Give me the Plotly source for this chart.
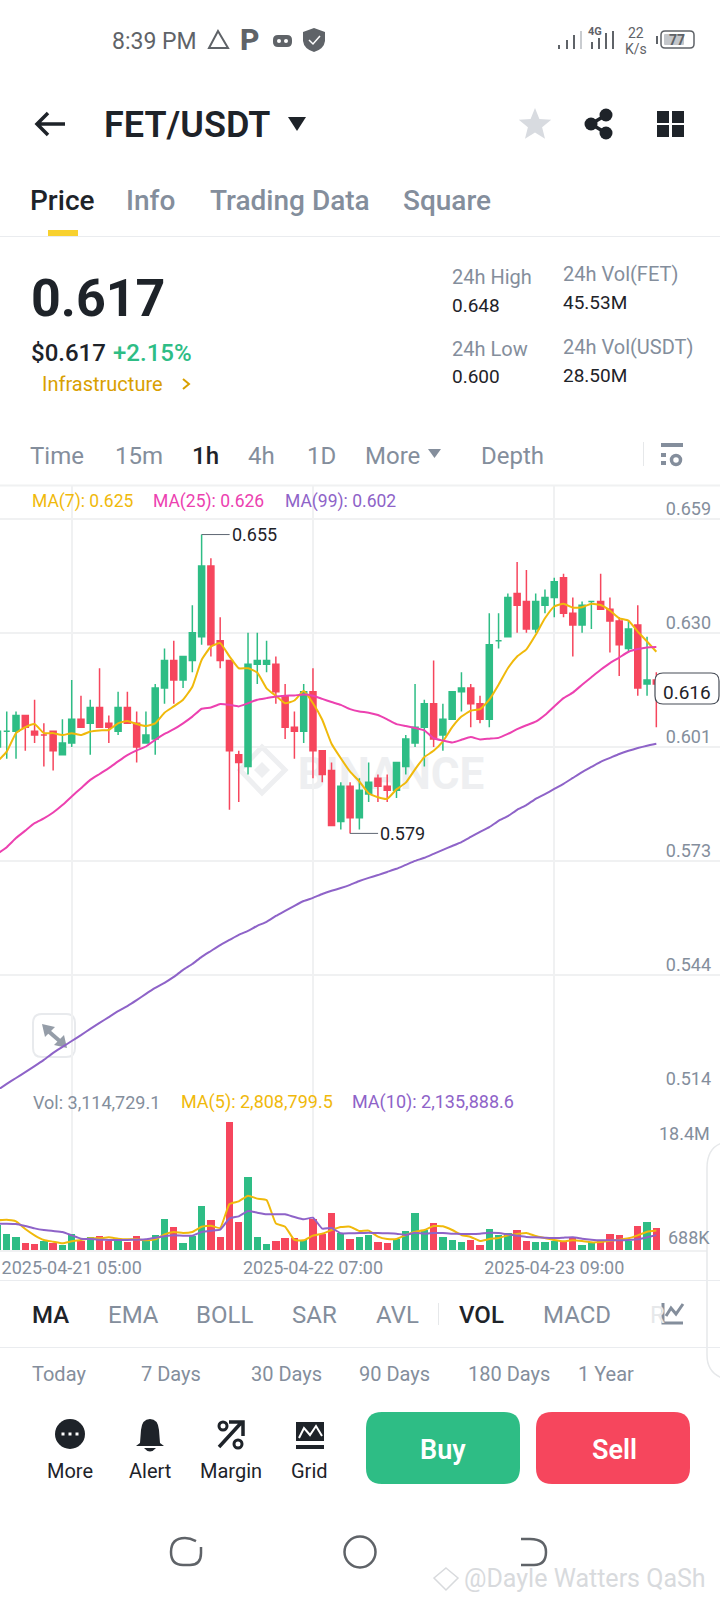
import math

import pandas as pd
import plotly.graph_objs as go

WIDTH, HEIGHT = 720, 1600
FONT = "Roboto"
DARK = "#1E2329"
GREY = "#848E9C"
ICON = "#5F6368"
LINE = "#F0F1F2"
GREEN = "#2EBD85"
RED = "#F6465D"
ORANGE = "#F0B90B"
PINK = "#EC41B0"
PURPLE = "#8E63C8"

# hourly candles, 2025-04-20 21:00 to 2025-04-23 20:00
hours = pd.date_range("2025-04-20 21:00", periods=72, freq="h")

open_prices = [.601, .605, .605, .609, .605, .604, .605, .599, .602, .608, .607, .611, .607, .605, .611, .607, .602, .603,
               .616, .623, .618, .623, .629, .647, .628, .623, .599, .596, .622, .622, .622, .614, .606, .605, .615, .600,
               .595, .582, .591, .583, .589, .593, .591, .590, .596, .602, .606, .612, .604, .608, .615, .616, .612, .608,
               .628, .629, .640, .638, .631, .637, .639, .644, .635, .632, .638, .638, .636, .633, .626, .632, .617, .618]
high_prices = [.607, .610, .610, .609, .613, .607, .605, .608, .618, .614, .613, .621, .609, .615, .615, .610, .610, .617,
               .626, .628, .624, .637, .655, .649, .634, .623, .600, .630, .630, .628, .624, .617, .610, .617, .621, .600,
               .597, .592, .592, .593, .597, .594, .594, .597, .604, .617, .613, .623, .612, .615, .620, .617, .614, .635,
               .635, .640, .648, .646, .640, .641, .644, .645, .639, .638, .638, .645, .639, .634, .633, .637, .629, .620]
low_prices = [.600, .598, .598, .600, .602, .596, .595, .599, .601, .606, .599, .606, .602, .604, .607, .597, .602, .599,
              .612, .612, .616, .620, .627, .624, .621, .585, .587, .594, .617, .620, .612, .603, .598, .602, .593, .592,
              .581, .580, .579, .580, .587, .587, .587, .588, .594, .601, .596, .601, .600, .608, .610, .606, .607, .606,
              .626, .629, .630, .630, .630, .635, .634, .634, .624, .630, .631, .636, .625, .619, .625, .614, .614, .606]
close_prices = [.605, .605, .609, .606, .604, .604, .600, .602, .608, .606, .611, .606, .606, .611, .607, .601, .604, .616,
                .623, .618, .624, .630, .647, .627, .623, .600, .597, .622, .623, .623, .615, .606, .605, .615, .600, .594,
                .581, .591, .583, .590, .592, .591, .590, .597, .603, .606, .612, .603, .608, .615, .616, .612, .608, .627,
                .628, .639, .637, .631, .638, .639, .643, .635, .632, .637, .638, .636, .633, .627, .631, .616, .618, .617]

ma7 = [.5973, .5998, .6045, .6060, .6068, .6045, .6045, .6040, .6045, .6040, .6049, .6052, .6053, .6070, .6076, .6068, .6063, .6070,
       .6097, .6113, .6130, .6163, .6231, .6265, .6274, .6240, .6210, .6210, .6199, .6159, .6140, .6121, .6128, .6152, .6121, .6079,
       .6018, .5981, .5947, .5922, .5892, .5882, .5878, .5902, .5919, .5953, .5984, .6000, .6024, .6060, .6087, .6102, .6106, .6130,
       .6168, .6210, .6240, .6258, .6295, .6337, .6367, .6374, .6364, .6365, .6374, .6371, .6357, .6337, .6331, .6303, .6278, .6252]
ma25 = [.5738, .5755, .5778, .5797, .5816, .5828, .5843, .5862, .5884, .5905, .5926, .5941, .5956, .5973, .5989, .6001, .6011, .6028,
        .6043, .6055, .6070, .6087, .6107, .6110, .6119, .6117, .6113, .6121, .6130, .6134, .6138, .6140, .6141, .6143, .6140, .6132,
        .6124, .6117, .6106, .6100, .6097, .6091, .6080, .6068, .6063, .6058, .6052, .6032, .6026, .6021, .6028, .6035, .6029, .6031,
        .6033, .6043, .6055, .6065, .6074, .6091, .6113, .6134, .6148, .6168, .6187, .6206, .6223, .6237, .6252, .6259, .6263, .6264]
ma99 = [.5137, .5153, .5168, .5183, .5198, .5214, .5232, .5247, .5262, .5277, .5293, .5308, .5323, .5338, .5351, .5366, .5382, .5397,
        .5410, .5425, .5443, .5458, .5476, .5491, .5506, .5519, .5532, .5542, .5555, .5565, .5580, .5593, .5606, .5618, .5626, .5636,
        .5644, .5651, .5659, .5669, .5677, .5684, .5692, .5700, .5710, .5720, .5728, .5738, .5748, .5758, .5768, .5781, .5794, .5806,
        .5822, .5834, .5850, .5862, .5878, .5890, .5903, .5916, .5931, .5946, .5959, .5972, .5982, .5992, .6000, .6007, .6013, .6018]

# volume in millions
volumes = [3.64, 2.30, 1.92, .96, .81, 1.34, 1.05, .77, 2.25, 1.34, 1.82, 2.01, 1.29, 1.63, 1.10, 2.01, 1.25, 2.16,
           4.45, 3.35, 1.05, 2.01, 6.32, 4.26, 1.92, 18.4, 4.02, 10.49, 1.87, .91, 1.29, 1.68, 1.72, 1.44, 4.41, 2.25,
           5.27, 2.49, 1.58, 1.92, 2.11, 1.15, .96, 1.53, 2.73, 5.36, 2.87, 3.93, 1.87, 1.48, 1.15, 1.39, .77, 3.02,
           2.16, 2.40, 2.87, 1.34, 1.20, 1.10, 1.34, 1.15, 1.82, .72, 1.10, 1.25, 2.30, 2.16, 1.29, 3.45, 4.02, 3.11]
vol_ma5 = [4.26, 4.36, 4.12, 3.02, 2.11, 1.44, 1.20, .96, 1.25, 1.44, 1.68, 1.68, 1.82, 1.63, 1.53, 1.53, 1.39, 1.53,
           2.25, 2.59, 2.44, 2.59, 3.35, 3.50, 3.16, 6.61, 6.99, 7.81, 7.38, 7.19, 3.83, 3.35, 1.44, 1.39, 2.06, 2.35,
           2.87, 3.31, 3.35, 2.73, 2.78, 1.92, 1.58, 1.58, 2.16, 2.63, 2.87, 3.45, 3.40, 2.87, 2.16, 1.87, 1.29, 1.58,
           1.72, 2.11, 2.30, 2.44, 2.01, 1.72, 1.44, 1.25, 1.39, 1.29, 1.10, 1.15, 1.34, 1.48, 1.68, 2.11, 2.63, 2.81]
vol_ma10 = [3.78, 3.78, 3.74, 3.45, 3.11, 2.87, 2.73, 2.59, 2.11, 1.63, 1.58, 1.48, 1.44, 1.44, 1.44, 1.48, 1.53, 1.77,
            1.96, 2.11, 2.06, 2.06, 2.59, 2.78, 2.92, 4.55, 4.84, 5.60, 5.36, 5.13, 5.13, 5.13, 4.74, 4.41, 4.65, 3.07,
            3.16, 2.40, 2.40, 2.44, 2.49, 2.44, 2.40, 2.35, 2.16, 2.49, 2.35, 2.44, 2.44, 2.35, 2.30, 2.30, 2.35, 2.49,
            2.44, 2.25, 2.06, 1.87, 1.82, 1.77, 1.72, 1.77, 1.82, 1.63, 1.48, 1.39, 1.39, 1.39, 1.44, 1.53, 1.82, 2.14]

price_tick_vals = [.659, .630, .601, .572, .543, .514]
price_tick_labels = ["0.659", "0.630", "0.601", "0.573", "0.544", "0.514"]
date_ticks = ["2025-04-21 05:00", "2025-04-22 07:00", "2025-04-23 09:00"]

annotations = []
shapes = []


def fx(x):
    return x / WIDTH


def fy(y):
    return 1 - y / HEIGHT


def text(x, y, s, size, color=GREY, anchor="left", weight=400):
    annotations.append(dict(x=fx(x), y=fy(y), xref="paper", yref="paper", text=s, showarrow=False,
                            xanchor=anchor, yanchor="middle", borderpad=0, borderwidth=0,
                            font=dict(family=FONT, size=size, color=color, weight=weight)))


def path(d, fill=None, stroke=None, width=1.0, layer="above"):
    # d is written in page pixels, shapes want paper coordinates
    out, is_x = [], True
    for tok in d.split():
        if tok.isalpha():
            out.append(tok)
        else:
            out.append(f"{fx(float(tok)):.5f}" if is_x else f"{fy(float(tok)):.5f}")
            is_x = not is_x
    shapes.append(dict(type="path", xref="paper", yref="paper", path=" ".join(out), layer=layer,
                       fillcolor=fill or "rgba(0,0,0,0)",
                       line=dict(color=stroke or "rgba(0,0,0,0)", width=width)))


def round_rect(x0, y0, x1, y1, r, fill=None, stroke=None, width=1.0, layer="above"):
    path(f"M {x0+r} {y0} L {x1-r} {y0} Q {x1} {y0} {x1} {y0+r} L {x1} {y1-r} Q {x1} {y1} {x1-r} {y1} "
         f"L {x0+r} {y1} Q {x0} {y1} {x0} {y1-r} L {x0} {y0+r} Q {x0} {y0} {x0+r} {y0} Z", fill, stroke, width, layer)


def rect(x0, y0, x1, y1, fill):
    shapes.append(dict(type="rect", xref="paper", yref="paper", x0=fx(x0), x1=fx(x1), y0=fy(y0), y1=fy(y1),
                       fillcolor=fill, line=dict(width=0)))


def circle(cx, cy, r, fill=None, stroke=None, width=1.0):
    shapes.append(dict(type="circle", xref="paper", yref="paper", x0=fx(cx - r), x1=fx(cx + r), y0=fy(cy - r), y1=fy(cy + r),
                       fillcolor=fill or "rgba(0,0,0,0)", line=dict(color=stroke or "rgba(0,0,0,0)", width=width)))


# status bar
text(112, 41, "8:39 PM", 23, ICON)
path("M 218 31 L 209 48 L 228 48 Z", stroke=ICON, width=2)
text(240, 39, "P", 30, ICON, weight=800)
round_rect(273, 35, 292, 47, 5, fill=ICON)
circle(279, 41, 2, fill="white")
circle(286, 41, 2, fill="white")
path("M 314 28 L 325 32 L 325 41 Q 324 49 314 52 Q 304 49 303 41 L 303 32 Z", fill=ICON)
path("M 309 40 L 313 44 L 320 36", stroke="white", width=1.5)
for x, top in [(559, 45), (567, 40), (574, 35), (592, 42), (599, 38), (606, 33), (613, 31)]:
    rect(x - 1, top, x + 1, 49, ICON)
rect(580, 31, 582, 49, "#C9CCD0")
text(595, 31, "4G", 11, ICON, anchor="center", weight=700)
text(636, 33, "22", 14, ICON, anchor="center")
text(636, 49, "K/s", 14, ICON, anchor="center")
rect(656, 36, 658, 44, ICON)
round_rect(661, 31, 694, 48, 4, stroke=ICON, width=1.5)
round_rect(664, 34, 684, 45, 1, fill="#C4C7CB")
text(677, 40, "77", 14, ICON, anchor="center", weight=700)

# header
path("M 65 124 L 38 124 M 48 113 L 37 124 L 48 135", stroke=DARK, width=3.5)
text(104, 125, "FET/USDT", 36, DARK, weight=600)
path("M 288 117 L 306 117 L 297 131 Z", fill=DARK)
star = []
for i in range(10):
    r = 17 if i % 2 == 0 else 7.5
    a = math.radians(-90 + 36 * i)
    star.append(f"{535 + r * math.cos(a):.1f} {125 + r * math.sin(a):.1f}")
path("M " + " L ".join(star) + " Z", fill="#D8DBE0")
path("M 606 115 L 591 124 L 606 133", stroke=DARK, width=3.5)
for cx, cy in [(606, 115), (591, 124), (606, 133)]:
    circle(cx, cy, 6.5, fill=DARK)
for x0, y0 in [(657, 111), (672, 111), (657, 125), (672, 125)]:
    rect(x0, y0, x0 + 12, y0 + 12, DARK)

# tabs
text(30, 200, "Price", 28, DARK, weight=500)
text(126, 200, "Info", 28, GREY, weight=500)
text(210, 200, "Trading Data", 28, GREY, weight=500)
text(403, 200, "Square", 28, GREY, weight=500)
rect(48, 230, 78, 236, "#F8D12F")
rect(0, 236, WIDTH, 237, "#EAECEF")

# price block
text(31, 298, "0.617", 52, DARK, weight=700)
text(31, 353, "$0.617", 24, DARK, weight=500)
text(113, 353, "+2.15%", 24, GREEN, weight=500)
text(42, 384, "Infrastructure", 20, "#D9A000")
path("M 183 379 L 189 384 L 183 389", stroke="#D9A000", width=2)
text(452, 277, "24h High", 20)
text(452, 305, "0.648", 19, DARK)
text(452, 349, "24h Low", 20)
text(452, 377, "0.600", 19, DARK)
text(563, 274, "24h Vol(FET)", 20)
text(563, 303, "45.53M", 19, DARK)
text(563, 347, "24h Vol(USDT)", 20)
text(563, 375, "28.50M", 19, DARK)

# interval row
for x, s, c in [(30, "Time", GREY), (115, "15m", GREY), (192, "1h", DARK), (248, "4h", GREY),
                (307, "1D", GREY), (365, "More", GREY), (481, "Depth", GREY)]:
    text(x, 456, s, 24, c, weight=500 if c == DARK else 400)
path("M 428 449 L 441 449 L 434.5 458 Z", fill=GREY)
rect(643, 442, 644, 466, "#E6E8EA")
rect(661, 443, 683, 447, GREY)
rect(661, 453, 666, 457, GREY)
rect(661, 461, 666, 465, GREY)
circle(676, 460, 4.5, stroke=GREY, width=3.5)
rect(0, 484.5, WIDTH, 486.5, LINE)

# moving average legends
text(32, 502, "MA(7): 0.625", 17.5, ORANGE)
text(153, 502, "MA(25): 0.626", 17.5, PINK)
text(285, 502, "MA(99): 0.602", 17.5, PURPLE)
text(33, 1102, "Vol: 3,114,729.1", 18, GREY)
text(181, 1102, "MA(5): 2,808,799.5", 18, ORANGE)
text(352, 1102, "MA(10): 2,135,888.6", 18, PURPLE)
text(710, 1133, "18.4M", 18, anchor="right")
text(710, 1237, "688K", 18, anchor="right")

# chart furniture
logo_mark = "M 262 747 L 285 770 L 262 793 L 240 770 Z"
path(logo_mark, stroke="#EEEFF1", width=5, layer="below")
path("M 262 762 L 270 770 L 262 778 L 254 770 Z", fill="#EEEFF1", layer="below")
shapes.append(dict(type="rect", xref="paper", yref="paper", x0=fx(292), x1=fx(490), y0=fy(790), y1=fy(752), layer="below",
                   line=dict(width=0), fillcolor="rgba(0,0,0,0)",
                   label=dict(text="BINANCE", font=dict(family=FONT, size=44, color="#EEEFF1", weight=700),
                              textposition="middle center")))
round_rect(33, 1014, 75, 1057, 9, fill="white", stroke="#E8EAED", width=2, layer="below")
path("M 42 1024 L 55 1027 L 45 1037 Z", fill="#959DA8", layer="below")
path("M 67 1048 L 54 1045 L 64 1035 Z", fill="#959DA8", layer="below")
path("M 47 1030 L 62 1043", stroke="#959DA8", width=4, layer="below")

# last price flag
round_rect(655, 673, 719, 704, 8, fill="white", stroke="#474D57", width=1.2)
text(687, 692, "0.616", 19, DARK, anchor="center")

# side panel edge
path("M 722 1143 Q 707 1148 707 1168 L 707 1355 Q 707 1372 722 1378 Z", fill="white", stroke="#E6E8EA", width=1.5)

# indicator row
rect(0, 1280, WIDTH, 1281, "#EAECEF")
for x, s, c in [(32, "MA", DARK), (108, "EMA", GREY), (196, "BOLL", GREY), (292, "SAR", GREY), (376, "AVL", GREY),
                (459, "VOL", DARK), (543, "MACD", GREY)]:
    text(x, 1315, s, 24, c, weight=500 if c == DARK else 400)
rect(438, 1303, 439, 1325, "#E6E8EA")
text(650, 1315, "R", 24, "#E6E8EA")
path("M 663 1303 L 663 1323 L 683 1323", stroke=GREY, width=3)
path("M 666 1316 L 671 1308 L 676 1314 L 683 1304", stroke=GREY, width=3)
rect(0, 1347, WIDTH, 1348, "#EAECEF")

for x, s in [(32, "Today"), (141, "7 Days"), (251, "30 Days"), (359, "90 Days"), (468, "180 Days"), (578, "1 Year")]:
    text(x, 1374, s, 20, GREY)

# bottom actions
circle(70, 1434, 15, fill=DARK)
for x in (63, 70, 77):
    rect(x - 1.5, 1432.5, x + 1.5, 1435.5, "white")
path("M 150 1419 Q 158 1419 159 1430 L 160 1443 L 164 1446 L 136 1446 L 140 1443 L 141 1430 Q 142 1419 150 1419 Z", fill=DARK)
path("M 144 1448 L 156 1448 Q 150 1455 144 1448 Z", fill=DARK)
path("M 219 1447 L 241 1423 M 229 1422 L 243 1422 L 243 1436", stroke=DARK, width=3.5)
circle(223, 1426, 4, stroke=DARK, width=3)
circle(238, 1444, 4, stroke=DARK, width=3)
rect(296, 1422, 324, 1441, DARK)
path("M 299 1438 L 304 1428 L 310 1435 L 316 1426 L 322 1436", stroke="white", width=2)
rect(296, 1445, 324, 1449, DARK)
for x, s in [(70, "More"), (150, "Alert"), (231, "Margin"), (309.5, "Grid")]:
    text(x, 1471, s, 20, DARK, anchor="center")
round_rect(366, 1412, 520, 1484, 16, fill=GREEN)
round_rect(536, 1412, 690, 1484, 16, fill=RED)
text(443, 1450, "Buy", 27, "white", anchor="center", weight=600)
text(614, 1450, "Sell", 27, "white", anchor="center", weight=600)

# navigation bar
path("M 196 1541 Q 190 1538 185 1538 Q 171 1538 171 1552 Q 171 1565 183 1565 L 190 1565 Q 201 1565 201 1553 L 201 1547",
     stroke=ICON, width=2.5)
circle(360, 1552, 15.5, stroke=ICON, width=2.5)
path("M 521 1539 L 530 1539 Q 546 1539 546 1552 Q 546 1565 534 1565 L 521 1565", stroke=ICON, width=2.5)
path("M 446 1568 L 458 1578 L 446 1590 L 434 1578 Z", stroke="#D8DADD", width=1.5)
text(464, 1578, "@Dayle Watters QaSh", 25, "#D8DADD")

bar_colors = [GREEN if c >= o else RED for o, c in zip(open_prices, close_prices)]

candles = go.Candlestick(x=hours, open=open_prices, high=high_prices, low=low_prices, close=close_prices,
                         xaxis="x", yaxis="y", whiskerwidth=0,
                         increasing=dict(line=dict(color=GREEN, width=1.5), fillcolor=GREEN),
                         decreasing=dict(line=dict(color=RED, width=1.5), fillcolor=RED))
line_traces = []
for values, color, axis in [(ma7, ORANGE, "y"), (ma25, PINK, "y"), (ma99, PURPLE, "y"),
                            (vol_ma5, ORANGE, "y2"), (vol_ma10, PURPLE, "y2")]:
    line_traces.append(go.Scatter(x=hours, y=values, mode="lines", xaxis="x", yaxis=axis,
                                  line=dict(color=color, width=2, shape="spline", smoothing=0.4)))
volume_bars = go.Bar(x=hours, y=volumes, marker=dict(color=bar_colors, line=dict(width=0)), width=2844000,
                     xaxis="x", yaxis="y2")

fig = go.Figure([volume_bars, candles] + line_traces)

# high and low callouts
for when, price, label in [("2025-04-21 19:00", .655, "0.655"), ("2025-04-22 11:00", .579, "0.579")]:
    annotations.append(dict(x=when, y=price, xref="x", yref="y", text=label, showarrow=True, arrowhead=0, arrowwidth=1,
                            arrowcolor="#5E6673", ax=28, ay=0, xanchor="left", yanchor="middle", standoff=0,
                            font=dict(family=FONT, size=18, color=DARK)))

fig.update_layout(
    width=WIDTH, height=HEIGHT, autosize=False, showlegend=False,
    margin=dict(l=0, r=0, t=0, b=0),
    paper_bgcolor="white", plot_bgcolor="white",
    bargap=0, boxgap=0.35, boxgroupgap=0,
    annotations=annotations, shapes=shapes,
    xaxis=dict(domain=[0, 1], anchor="y2", type="date",
               range=["2025-04-20 21:16:26", "2025-04-24 02:51:40"],
               rangeslider=dict(visible=False),
               showgrid=True, gridcolor=LINE, gridwidth=1.5, zeroline=False,
               showline=True, linecolor=LINE, linewidth=2,
               ticks="", tickmode="array", tickvals=date_ticks, ticktext=date_ticks,
               tickfont=dict(family=FONT, size=18, color=GREY)),
    yaxis=dict(domain=[fy(1089), fy(485)], anchor="x", side="right", range=[.5140, .6676],
               showgrid=True, gridcolor=LINE, gridwidth=1.5, zeroline=False, showline=False,
               ticks="", tickmode="array", tickvals=price_tick_vals, ticktext=price_tick_labels,
               ticklabelposition="inside top", ticklabelstandoff=6, ticklabelshift=2,
               tickfont=dict(family=FONT, size=18, color=GREY)),
    yaxis2=dict(domain=[fy(1250), fy(1089)], anchor="x", side="right", range=[0, 23.14],
                showgrid=False, zeroline=False, showline=False, showticklabels=False, ticks=""),
)

# the page's default body margin would push the 720 wide figure off the window
fig.write_html("out.html", config=dict(displayModeBar=False), post_script="document.body.style.margin='0';")
